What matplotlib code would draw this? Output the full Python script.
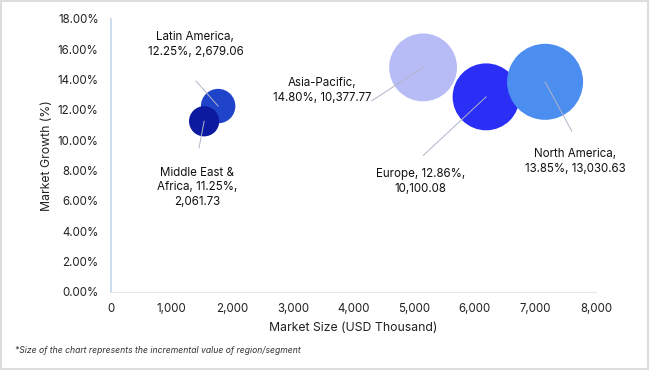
import matplotlib.pyplot as plt
from matplotlib.ticker import FuncFormatter

plt.rcParams['font.family'] = ['Inter', 'DejaVu Sans']

regions = ['Latin America', 'Middle East &\nAfrica', 'Asia-Pacific', 'Europe', 'North America']
market_size = [1765, 1534, 5146, 6186, 7159]
growth = [12.25, 11.25, 14.80, 12.86, 13.85]
incr_value = [2679.06, 2061.73, 10377.77, 10100.08, 13030.63]
colors = ['#1f44c9', '#0b1a9e', '#b8bcf6', '#2b2ff5', '#4b8ef0']

labels = [
    'Latin America,\n12.25%, 2,679.06',
    'Middle East &\nAfrica, 11.25%,\n2,061.73',
    'Asia-Pacific,\n14.80%, 10,377.77',
    'Europe, 12.86%,\n10,100.08',
    'North America,\n13.85%, 13,030.63',
]
# label anchor (data coords) and where the leader line ends
label_pos = [(1390, 16.3), (1420, 6.9), (3480, 13.3), (5100, 7.3), (7650, 8.6)]
line_end = [(1400, 13.9), (1450, 9.5), (4300, 12.6), (5150, 9.0), (7600, 10.6)]

fig = plt.figure(figsize=(6.5, 3.7), dpi=100)
fig.patch.set_facecolor('white')
ax = fig.add_axes([0.171, 0.211, 0.746, 0.738])

ax.scatter(market_size, growth, s=[v * 0.23 for v in incr_value], c=colors,
           linewidths=0, zorder=3)

for i in range(len(regions)):
    ax.plot([market_size[i], line_end[i][0]], [growth[i], line_end[i][1]],
            color='#b0b4c8', lw=0.7, zorder=4)
    ax.text(label_pos[i][0], label_pos[i][1], labels[i], ha='center', va='center',
            fontsize=8.3, color='#111111', linespacing=1.3, zorder=5)

ax.set_xlim(0, 8000)
ax.set_ylim(0, 18)
ax.set_xticks(range(0, 8001, 1000))
ax.set_yticks(range(0, 19, 2))
ax.xaxis.set_major_formatter(FuncFormatter(lambda v, p: f'{int(v):,}'))
ax.yaxis.set_major_formatter(FuncFormatter(lambda v, p: f'{v:.2f}%'))
ax.tick_params(length=0, labelsize=8.3, colors='#222222')
ax.tick_params(axis='x', pad=8)
ax.tick_params(axis='y', pad=9)

for s in ['top', 'right']:
    ax.spines[s].set_visible(False)
ax.spines['left'].set_color('#c5d5ee')
ax.spines['bottom'].set_color('#e6e8ef')
ax.spines['left'].set_linewidth(1.2)

ax.set_xlabel('Market Size (USD Thousand)', fontsize=8.8, color='#222222', labelpad=5)
ax.set_ylabel('Market Growth (%)', fontsize=8.8, color='#222222', labelpad=3)

fig.text(0.023, 0.046, '*Size of the chart represents the incremental value of region/segment',
         fontsize=6.2, style='italic', color='#333333')

fig.add_artist(plt.Rectangle((0.002, 0.003), 0.995, 0.993, transform=fig.transFigure,
                             fill=False, edgecolor='#dddddd', lw=1.5))

fig.savefig('out.png', dpi=100)
